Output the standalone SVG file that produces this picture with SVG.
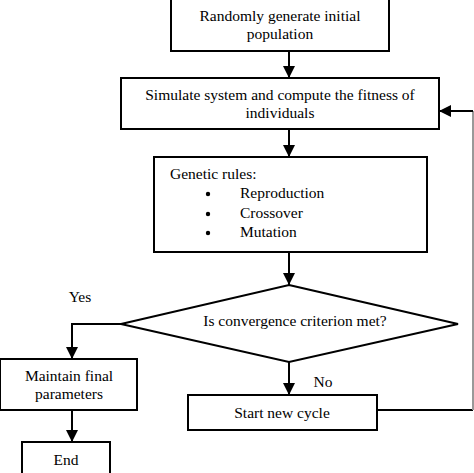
<svg xmlns="http://www.w3.org/2000/svg" width="474" height="473" viewBox="0 0 474 473">
<style>
.box{fill:#fff;stroke:#000;stroke-width:2}
.t{font-family:"Liberation Serif","Times New Roman",serif;font-size:15.5px;fill:#000}
.c{text-anchor:middle}
.ln{fill:none;stroke:#000;stroke-width:2}
</style>
<defs>
<marker id="ah" markerWidth="12" markerHeight="12" viewBox="0 0 12 12" refX="12" refY="6" orient="auto" markerUnits="userSpaceOnUse">
<path d="M0,0 L12,6 L0,12 Z" fill="#000"/>
</marker>
</defs>
<rect width="474" height="473" fill="#fff"/>
<g id="connectors">
<line class="ln" x1="289" y1="51" x2="289" y2="78" marker-end="url(#ah)"/>
<line class="ln" x1="289" y1="129" x2="289" y2="157" marker-end="url(#ah)"/>
<line class="ln" x1="289" y1="252" x2="289" y2="285" marker-end="url(#ah)"/>
<polyline class="ln" points="121,324 72,324 72,359" marker-end="url(#ah)"/>
<line class="ln" x1="72" y1="410" x2="72" y2="442" marker-end="url(#ah)"/>
<line class="ln" x1="289" y1="362" x2="289" y2="395" marker-end="url(#ah)"/>
<line class="ln" x1="377" y1="410" x2="473" y2="410"/>
<line x1="473" y1="410" x2="473" y2="111" stroke="#999" stroke-width="2"/>
<line class="ln" x1="473" y1="111" x2="439" y2="111" marker-end="url(#ah)"/>
<text class="t" x="80" y="302" text-anchor="middle">Yes</text>
<text class="t" x="323" y="387" text-anchor="middle">No</text>
</g>
<g id="n1">
<rect class="box" x="171" y="-5" width="218" height="56"/>
<text class="t c" x="280" y="21">Randomly generate initial</text>
<text class="t c" x="280" y="39">population</text>
</g>
<g id="n2">
<rect class="box" x="121" y="78" width="318" height="51"/>
<text class="t c" x="280" y="100">Simulate system and compute the fitness of</text>
<text class="t c" x="280" y="118">individuals</text>
</g>
<g id="n3">
<rect class="box" x="154" y="157" width="273" height="95"/>
<text class="t" x="170" y="179">Genetic rules:</text>
<circle cx="208" cy="194" r="2.2"/>
<circle cx="208" cy="214" r="2.2"/>
<circle cx="208" cy="233" r="2.2"/>
<text class="t" x="240" y="198">Reproduction</text>
<text class="t" x="240" y="218">Crossover</text>
<text class="t" x="240" y="237">Mutation</text>
</g>
<g id="n4">
<polygon class="box" points="289,285 458,324 289,362 121,324"/>
<text class="t c" x="295" y="326">Is convergence criterion met?</text>
</g>
<g id="n5">
<rect class="box" x="0" y="359" width="137" height="51"/>
<text class="t c" x="69" y="381">Maintain final</text>
<text class="t c" x="69" y="399">parameters</text>
</g>
<g id="n6">
<rect class="box" x="22" y="442" width="88" height="40"/>
<text class="t c" x="66" y="465">End</text>
</g>
<g id="n7">
<rect class="box" x="188" y="395" width="189" height="35"/>
<text class="t c" x="282" y="418">Start new cycle</text>
</g>
</svg>
